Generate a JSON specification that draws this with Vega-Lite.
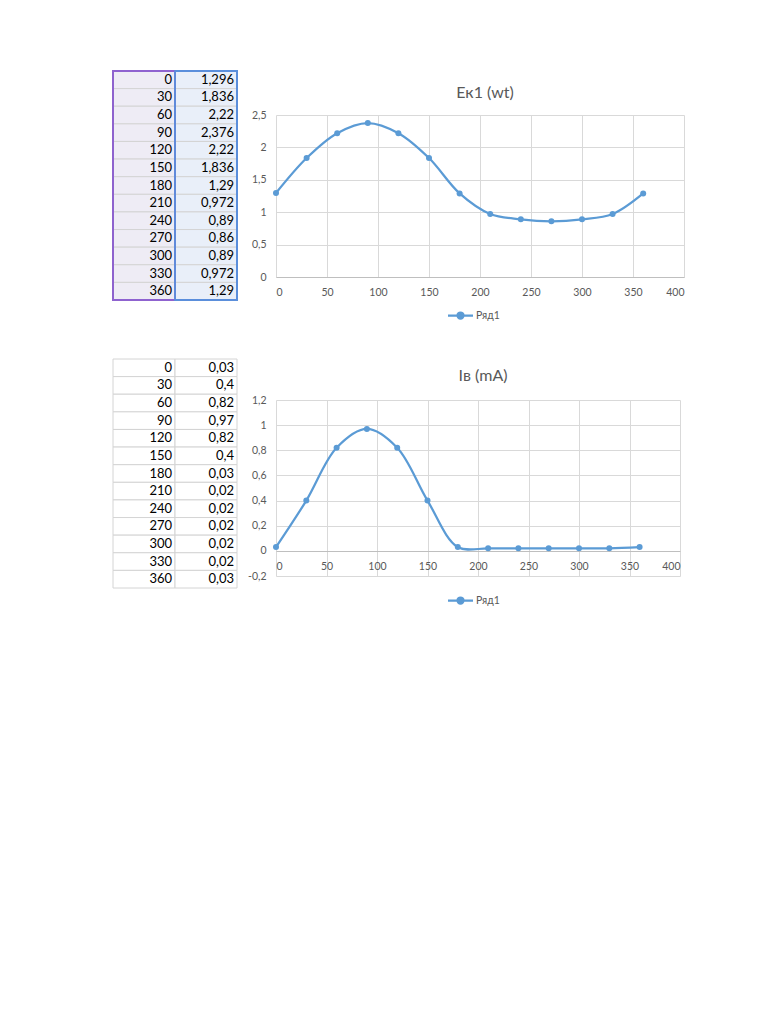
{
  "$schema": "https://vega.github.io/schema/vega-lite/v6.json",
  "background": "white",
  "padding": {"left": 112, "top": 70, "right": 5, "bottom": 5},
  "datasets": {
    "ek1": [
      {"wt": 0, "E": 1.296}, {"wt": 30, "E": 1.836}, {"wt": 60, "E": 2.22}, {"wt": 90, "E": 2.376},
      {"wt": 120, "E": 2.22}, {"wt": 150, "E": 1.836}, {"wt": 180, "E": 1.29}, {"wt": 210, "E": 0.972},
      {"wt": 240, "E": 0.89}, {"wt": 270, "E": 0.86}, {"wt": 300, "E": 0.89}, {"wt": 330, "E": 0.972},
      {"wt": 360, "E": 1.29}
    ],
    "ib": [
      {"wt": 0, "I": 0.03}, {"wt": 30, "I": 0.4}, {"wt": 60, "I": 0.82}, {"wt": 90, "I": 0.97},
      {"wt": 120, "I": 0.82}, {"wt": 150, "I": 0.4}, {"wt": 180, "I": 0.03}, {"wt": 210, "I": 0.02},
      {"wt": 240, "I": 0.02}, {"wt": 270, "I": 0.02}, {"wt": 300, "I": 0.02}, {"wt": 330, "I": 0.02},
      {"wt": 360, "I": 0.03}
    ]
  },
  "config": {
    "locale": {"number": {"decimal": ",", "thousands": " ", "grouping": [3], "currency": ["", ""], "minus": "-"}},
    "font": "Lato",
    "view": {"stroke": null},
    "axis": {
      "labelColor": "#595959", "labelFontSize": 10.5, "labelFont": "Lato",
      "gridColor": "#d9d9d9", "gridWidth": 1, "ticks": false, "tickSize": 0,
      "domain": false, "title": null
    },
    "title": {"color": "#595959", "fontSize": 16, "font": "Lato", "fontWeight": "normal", "anchor": "middle", "frame": "group"},
    "legend": {
      "orient": "none", "direction": "horizontal", "title": null,
      "labelColor": "#595959", "labelFontSize": 10.5, "labelFont": "Lato",
      "symbolType": "M-2.5,0H2.5M0.6,0A0.6,0.6,0,1,1,-0.6,0A0.6,0.6,0,1,1,0.6,0",
      "symbolSize": 100, "symbolStrokeWidth": 2.25, "symbolFillColor": "#5b9bd5",
      "labelOffset": 9
    }
  },
  "resolve": {"scale": {"color": "independent"}, "legend": {"color": "independent"}},
  "spacing": 9,
  "hconcat": [
    {
      "spacing": 57,
      "vconcat": [
        {
          "data": {"name": "ek1"},
          "transform": [{"fold": ["wt", "E"], "as": ["col", "val"]}],
          "width": 124,
          "height": 229,
          "layer": [
            {
              "mark": {"type": "rect", "stroke": "#d4d4d4", "strokeWidth": 1},
              "encoding": {
                "x": {"field": "col", "type": "nominal", "sort": ["wt", "E"], "axis": null, "scale": {"paddingInner": 0, "paddingOuter": 0}},
                "y": {"field": "wt", "type": "ordinal", "axis": null, "scale": {"paddingInner": 0, "paddingOuter": 0}},
                "fill": {"field": "col", "type": "nominal", "scale": {"domain": ["wt", "E"], "range": ["#eeecf5", "#e9eff9"]}, "legend": null}
              }
            },
            {
              "mark": {"type": "rect", "fill": null, "strokeWidth": 1.75},
              "encoding": {
                "x": {"field": "col", "type": "nominal", "sort": ["wt", "E"], "axis": null, "scale": {"paddingInner": 0, "paddingOuter": 0}},
                "stroke": {"field": "col", "type": "nominal", "scale": {"domain": ["wt", "E"], "range": ["#8f63cf", "#5b8fdb"]}, "legend": null}
              }
            },
            {
              "mark": {"type": "text", "align": "right", "baseline": "middle", "dx": 28, "fontSize": 13, "font": "Lato", "color": "#000000"},
              "encoding": {
                "x": {"field": "col", "type": "nominal", "sort": ["wt", "E"], "axis": null},
                "y": {"field": "wt", "type": "ordinal", "axis": null},
                "text": {"field": "val", "type": "quantitative", "format": ".4~g"}
              }
            }
          ]
        },
        {
          "data": {"name": "ib"},
          "transform": [{"fold": ["wt", "I"], "as": ["col", "val"]}],
          "width": 124,
          "height": 229,
          "layer": [
            {
              "mark": {"type": "rect", "fill": "#ffffff", "stroke": "#d4d4d4", "strokeWidth": 1},
              "encoding": {
                "x": {"field": "col", "type": "nominal", "sort": ["wt", "I"], "axis": null, "scale": {"paddingInner": 0, "paddingOuter": 0}},
                "y": {"field": "wt", "type": "ordinal", "axis": null, "scale": {"paddingInner": 0, "paddingOuter": 0}}
              }
            },
            {
              "mark": {"type": "text", "align": "right", "baseline": "middle", "dx": 28, "fontSize": 13, "font": "Lato", "color": "#000000"},
              "encoding": {
                "x": {"field": "col", "type": "nominal", "sort": ["wt", "I"], "axis": null},
                "y": {"field": "wt", "type": "ordinal", "axis": null},
                "text": {"field": "val", "type": "quantitative", "format": ".4~g"}
              }
            }
          ]
        }
      ]
    },
    {
      "spacing": 1,
      "resolve": {"scale": {"color": "independent"}, "legend": {"color": "independent"}},
      "vconcat": [
        {
          "data": {"values": [{"name": "Eк1 (wt)"}]},
          "width": 408,
          "height": 38,
          "mark": {"type": "text", "fontSize": 16, "font": "Lato", "color": "#595959", "baseline": "middle", "dx": 5, "dy": 3},
          "encoding": {"text": {"field": "name", "type": "nominal"}}
        },
        {
          "data": {"name": "ek1"},
          "width": 408,
          "height": 162,
          "mark": {"type": "line", "interpolate": "catmull-rom", "strokeWidth": 2.25, "point": {"filled": true, "size": 36}},
          "encoding": {
            "x": {
              "field": "wt", "type": "quantitative",
              "scale": {"domain": [0, 400], "nice": false},
              "axis": {"tickCount": 8, "grid": true, "domain": true, "domainColor": "#bfbfbf", "labelPadding": 10}
            },
            "y": {
              "field": "E", "type": "quantitative",
              "scale": {"domain": [0, 2.5], "nice": false},
              "axis": {"tickCount": 5, "format": ".3~g", "labelPadding": 10}
            },
            "color": {"datum": "Ряд1", "type": "nominal", "scale": {"range": ["#5b9bd5"]}, "legend": {"legendX": 178, "legendY": 194}}
          }
        },
        {
          "data": {"name": "ib"},
          "width": 404,
          "height": 176,
          "title": {"text": ["", "Iв (mA)"], "lineHeight": 44, "offset": 11, "dx": 5},
          "mark": {"type": "line", "interpolate": "catmull-rom", "strokeWidth": 2.25, "point": {"filled": true, "size": 36}},
          "encoding": {
            "x": {
              "field": "wt", "type": "quantitative",
              "scale": {"domain": [0, 400], "nice": false},
              "axis": {"tickCount": 8, "grid": true, "domain": true, "domainColor": "#bfbfbf", "labelPadding": 10, "offset": -25}
            },
            "y": {
              "field": "I", "type": "quantitative",
              "scale": {"domain": [-0.2, 1.2], "nice": false},
              "axis": {"tickCount": 7, "format": ".3~g", "labelPadding": 10}
            },
            "color": {"datum": "Ряд1", "type": "nominal", "scale": {"range": ["#5b9bd5"]}, "legend": {"legendX": 178, "legendY": 194}}
          }
        }
      ]
    }
  ]
}
